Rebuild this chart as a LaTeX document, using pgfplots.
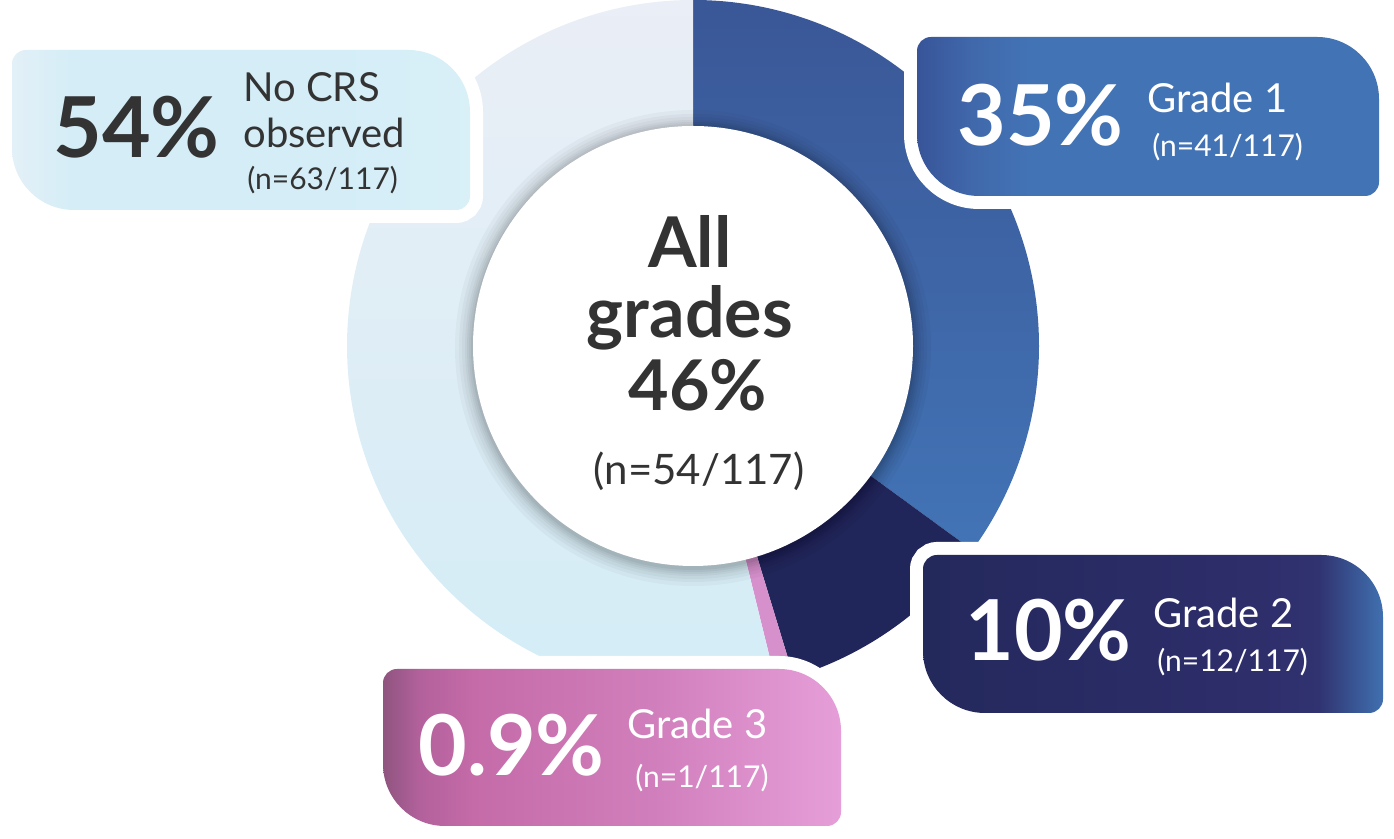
\documentclass[border=0pt]{standalone}
\usepackage{pgfplots}
\pgfplotsset{compat=1.18}
\usepackage{fontspec}
\setmainfont{Lato}

\definecolor{ink}{HTML}{333333}
\definecolor{gonetop}{HTML}{3A5797}
\definecolor{gonebot}{HTML}{4274B6}
\definecolor{gtwo}{HTML}{21265A}
\definecolor{gthree}{HTML}{D690CC}
\definecolor{nonetop}{HTML}{EAEEF6}
\definecolor{nonebot}{HTML}{D2EDF6}

% box gradients (stops between 25bp and 75bp span the box)
\pgfdeclarehorizontalshading{boxone}{100bp}{rgb(0bp)=(0.22,0.33,0.60); rgb(25bp)=(0.22,0.33,0.60); rgb(31bp)=(0.25,0.41,0.67); rgb(37bp)=(0.26,0.45,0.71); rgb(75bp)=(0.26,0.45,0.71); rgb(100bp)=(0.26,0.45,0.71)}
\pgfdeclarehorizontalshading{boxtwo}{100bp}{rgb(0bp)=(0.14,0.16,0.36); rgb(25bp)=(0.14,0.16,0.36); rgb(62bp)=(0.18,0.18,0.42); rgb(68bp)=(0.19,0.20,0.44); rgb(75bp)=(0.25,0.44,0.69); rgb(100bp)=(0.25,0.44,0.69)}
\pgfdeclarehorizontalshading{boxthree}{100bp}{rgb(0bp)=(0.56,0.33,0.50); rgb(25bp)=(0.56,0.33,0.50); rgb(29bp)=(0.70,0.38,0.61); rgb(35bp)=(0.77,0.42,0.66); rgb(55bp)=(0.82,0.50,0.74); rgb(75bp)=(0.90,0.62,0.85); rgb(100bp)=(0.90,0.62,0.85)}
\pgfdeclarehorizontalshading{boxlight}{100bp}{rgb(0bp)=(0.89,0.94,0.97); rgb(25bp)=(0.89,0.94,0.97); rgb(32bp)=(0.83,0.93,0.97); rgb(60bp)=(0.83,0.93,0.97); rgb(75bp)=(0.85,0.94,0.97); rgb(100bp)=(0.85,0.94,0.97)}

% one ring segment: start count, count, style (117 patients = 360 degrees)
\newcommand{\sector}[3]{%
  \path[#3] (axis cs:693,494) -- ++({90-(#1)/117*360}:173pt)
    arc[start angle={90-(#1)/117*360}, end angle={90-(#1+#2)/117*360}, radius=173pt] -- cycle;}

% label box: x1, y1 (bottom), x2, y2 (top)
\newcommand{\tabpath}[4]{%
  ([xshift=7pt]axis cs:#1,#4) -- ([xshift=-31pt]axis cs:#3,#4)
  arc[start angle=90, end angle=0, radius=31pt] -- ([yshift=7pt]axis cs:#3,#2)
  arc[start angle=0, end angle=-90, radius=7pt] -- ([xshift=31pt]axis cs:#1,#2)
  arc[start angle=270, end angle=180, radius=31pt] -- ([yshift=-7pt]axis cs:#1,#4)
  arc[start angle=180, end angle=90, radius=7pt] -- cycle}

\newcommand{\bigpct}{\fontsize{42}{42}\selectfont\bfseries}
\newcommand{\lab}{\fontsize{20}{20}\selectfont}
\newcommand{\cnt}{\fontsize{15}{15}\selectfont}
\newcommand{\midfont}{\fontsize{35}{35}\selectfont\bfseries}

\begin{document}
\begin{tikzpicture}
\begin{axis}[
    scale only axis,
    width=697pt, height=421pt,
    xmin=0, xmax=1394, ymin=0, ymax=842,
    hide axis,
]
% ring
\sector{0}{41}{shade, top color=gonetop, bottom color=gonebot}
\sector{41}{12}{fill=gtwo}
\sector{53}{1}{fill=gthree}
\sector{54}{63}{shade, top color=nonetop, bottom color=nonebot}

% shadow of the centre disc
\fill[black, opacity=0.03] (axis cs:693,492) circle[radius=119pt];
\fill[black, opacity=0.03] (axis cs:693,492) circle[radius=117pt];
\fill[black, opacity=0.03] (axis cs:693,492) circle[radius=115.5pt];
\fill[black, opacity=0.035] (axis cs:693,492) circle[radius=114pt];
\fill[black, opacity=0.04] (axis cs:693,492) circle[radius=113pt];
\fill[black, opacity=0.04] (axis cs:693,492) circle[radius=112pt];
\fill[black, opacity=0.05] (axis cs:693,492) circle[radius=111pt];
\fill[white] (axis cs:693,494) circle[radius=110pt];

% label boxes
\draw[white, line width=13pt] \tabpath{12}{630}{470}{790};
\shade[shading=boxlight] \tabpath{12}{630}{470}{790};
\draw[white, line width=13pt] \tabpath{917}{644}{1379}{803};
\shade[shading=boxone] \tabpath{917}{644}{1379}{803};
\draw[white, line width=13pt] \tabpath{923}{127}{1383}{285};
\shade[shading=boxtwo] \tabpath{923}{127}{1383}{285};
\draw[white, line width=13pt] \tabpath{383}{14}{841}{171};
\shade[shading=boxthree] \tabpath{383}{14}{841}{171};

% texts
\node[anchor=base west, inner sep=0, text=ink, font=\bigpct] at (axis cs:53,682) {54\%};
\node[anchor=base west, inner sep=0, text=ink, font=\lab] at (axis cs:243,738) {No CRS};
\node[anchor=base west, inner sep=0, text=ink, font=\lab] at (axis cs:243,692) {observed};
\node[anchor=base west, inner sep=0, text=ink, font=\cnt] at (axis cs:247,650) {(n=63/117)};

\node[anchor=base west, inner sep=0, text=white, font=\bigpct] at (axis cs:957,694) {35\%};
\node[anchor=base west, inner sep=0, text=white, font=\lab] at (axis cs:1147,727) {Grade 1};
\node[anchor=base west, inner sep=0, text=white, font=\cnt] at (axis cs:1152,683) {(n=41/117)};

\node[anchor=base west, inner sep=0, text=white, font=\bigpct] at (axis cs:965,179) {10\%};
\node[anchor=base west, inner sep=0, text=white, font=\lab] at (axis cs:1153,212) {Grade 2};
\node[anchor=base west, inner sep=0, text=white, font=\cnt] at (axis cs:1157,168) {(n=12/117)};

\node[anchor=base west, inner sep=0, text=white, font=\bigpct] at (axis cs:418,64) {0.9\%};
\node[anchor=base west, inner sep=0, text=white, font=\lab] at (axis cs:627,101) {Grade 3};
\node[anchor=base west, inner sep=0, text=white, font=\cnt] at (axis cs:635,52) {(n=1/117)};

\node[anchor=base, inner sep=0, text=ink, font=\midfont] at (axis cs:690,572) {All};
\node[anchor=base, inner sep=0, text=ink, font=\midfont] at (axis cs:690,502) {grades};
\node[anchor=base, inner sep=0, text=ink, font=\midfont] at (axis cs:698,429) {46\%};
\node[anchor=base, inner sep=0, text=ink, font=\fontsize{21}{21}\selectfont] at (axis cs:699,355) {(n=54/117)};
\end{axis}
\end{tikzpicture}
\end{document}
